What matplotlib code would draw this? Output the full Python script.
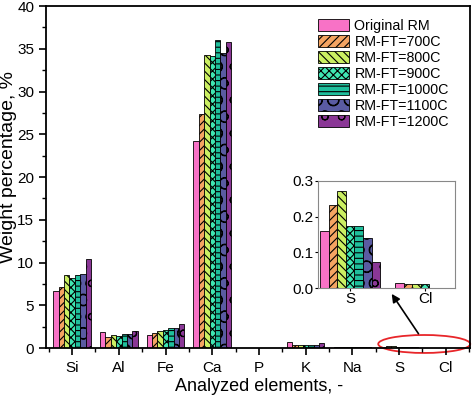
import matplotlib
matplotlib.use("Agg")
import matplotlib.pyplot as plt
import numpy as np
from matplotlib.patches import Ellipse

plt.rcParams['font.family'] = ['Liberation Sans', 'DejaVu Sans']
plt.rcParams['hatch.linewidth'] = 0.8

elements = ["Si", "Al", "Fe", "Ca", "P", "K", "Na", "S", "Cl"]
series = ["Original RM", "RM-FT=700C", "RM-FT=800C", "RM-FT=900C",
          "RM-FT=1000C", "RM-FT=1100C", "RM-FT=1200C"]
original = [6.7, 1.9, 1.5, 24.2, 0.0, 0.65, 0.10, 0.16, 0.015]
ft700 = [7.1, 1.25, 1.7, 27.4, 0.0, 0.35, 0.08, 0.233, 0.012]
ft800 = [8.5, 1.5, 2.0, 34.3, 0.0, 0.35, 0.08, 0.272, 0.012]
ft900 = [8.15, 1.4, 2.05, 34.2, 0.0, 0.35, 0.08, 0.175, 0.010]
ft1000 = [8.5, 1.6, 2.3, 36.0, 0.0, 0.40, 0.08, 0.175, 0.0]
ft1100 = [8.6, 1.6, 2.3, 34.5, 0.0, 0.40, 0.08, 0.140, 0.0]
ft1200 = [10.4, 2.0, 2.8, 35.8, 0.0, 0.55, 0.10, 0.072, 0.0]
values = [original, ft700, ft800, ft900, ft1000, ft1100, ft1200]

inset_elements = ["S", "Cl"]

colors = ["#F872C6", "#F4A462", "#CBEF62", "#3FE6B2", "#1FBF9C", "#5A5BA2", "#8A3796"]
hatches = [None, "////", "\\\\\\\\", "xxxx", "---", "O", "o"]

fig = plt.figure(figsize=(4.74, 3.95), dpi=100)
ax = fig.add_axes([46/474, 1-348/395, 424/474, 342/395])

x = np.arange(len(elements))
w = 0.115
for i, (vals, c, h, lab) in enumerate(zip(values, colors, hatches, series)):
    ax.bar(x + (i - 3) * w, vals, w, color=c, edgecolor="black", linewidth=0.6,
           hatch=h, label=lab)

ax.set_xlim(-0.56, 8.52)
ax.set_ylim(0, 40)
ax.set_xticks(x)
ax.set_xticklabels(elements)
ax.set_xticks(np.arange(-0.5, 8.6, 1.0), minor=True)
ax.set_yticks(np.arange(0, 41, 5))
ax.set_yticks(np.arange(0, 40.1, 2.5), minor=True)
ax.tick_params(axis="both", which="major", direction="out", length=5, width=1.2, labelsize=11)
ax.tick_params(axis="x", which="major", pad=4)
ax.tick_params(axis="both", which="minor", direction="out", length=3, width=1.0)
for s in ax.spines.values():
    s.set_linewidth(1.3)
ax.set_xlabel("Analyzed elements, -", fontsize=13)
ax.xaxis.set_label_coords(0.503, -0.088)
ax.set_ylabel("Weight percentage, %", fontsize=14)
ax.yaxis.set_label_coords(-0.068, 0.53)

leg = fig.legend(loc="upper left", bbox_to_anchor=(318/474, 1-19/395), frameon=False,
                 fontsize=10.3, handlelength=2.2, handleheight=0.95, handletextpad=0.35,
                 labelspacing=0.13, borderpad=0, borderaxespad=0)

# highlight ellipse and arrow
ell = Ellipse((7.54, 0.47), 1.97, 2.1, fill=False, edgecolor="#E8262A", linewidth=1.3,
              clip_on=False)
ax.add_patch(ell)
ax.annotate("", xy=(6.81, 6.6), xytext=(7.45, 1.4),
            arrowprops=dict(arrowstyle="-|>", color="black", lw=1.2, mutation_scale=12))

# inset
axi = fig.add_axes([318/474, 1-288/395, 137/474, 107/395])
xi = np.arange(len(inset_elements))
for i, (vals, c, h) in enumerate(zip(values, colors, hatches)):
    sub = vals[7:9]
    axi.bar(xi + (i - 3) * w, sub, w, color=c, edgecolor="black", linewidth=0.6, hatch=h)
axi.set_xlim(-0.43, 1.4)
axi.set_ylim(0, 0.3)
axi.set_xticks(xi)
axi.set_xticklabels(inset_elements)
axi.set_yticks([0.0, 0.1, 0.2, 0.3])
axi.tick_params(axis="both", labelsize=11, length=2, width=0.8, pad=1)
for s in axi.spines.values():
    s.set_linewidth(0.8)
    s.set_edgecolor("#888888")

fig.savefig("out.png", dpi=100)
